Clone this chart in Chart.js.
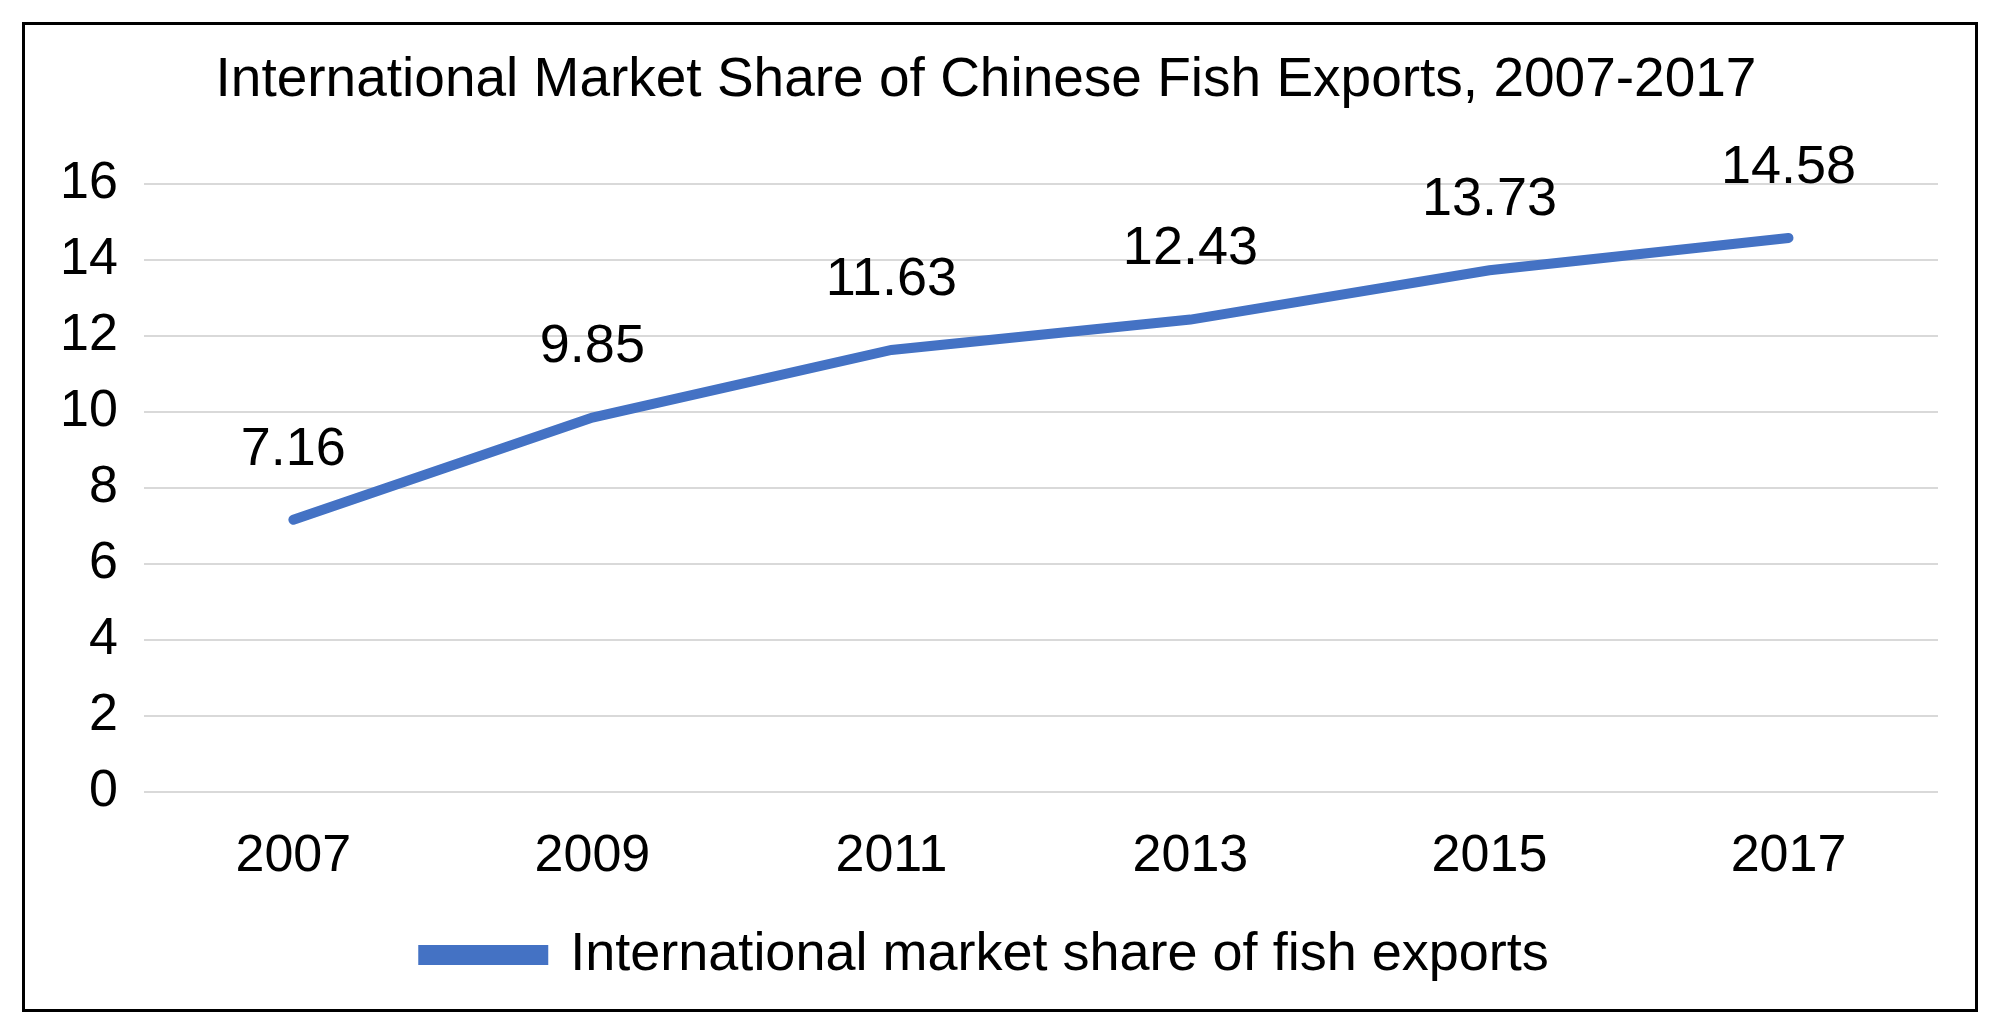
<!DOCTYPE html>
<html><head><meta charset="utf-8">
<script src="https://cdn.jsdelivr.net/npm/chart.js@4/dist/chart.umd.min.js"></script>
<style>
html,body{margin:0;padding:0;background:#fff;}
#frame{position:absolute;left:22px;top:22px;width:1950px;height:984px;border:3px solid #000;}
#wrap{position:absolute;left:0;top:0;width:2000px;height:1034px;}
</style></head><body>
<div id="frame"></div>
<div id="wrap"><canvas id="c" width="2000" height="1034"></canvas></div>
<script>
const years = ['2007','2009','2011','2013','2015','2017'];
const shares = [7.16, 9.85, 11.63, 12.43, 13.73, 14.58];
const seriesName = 'International market share of fish exports';
const chartTitle = 'International Market Share of Chinese Fish Exports, 2007-2017';
const blue = '#4472C4';
const FF = '"Liberation Sans", Arial, sans-serif';
const labelPlugin = {
  id:'labels',
  afterDatasetsDraw(chart){
    const ctx = chart.ctx;
    const meta = chart.getDatasetMeta(0);
    ctx.save();
    ctx.font = '54px ' + FF;
    ctx.fillStyle = '#000';
    ctx.textAlign = 'center';
    ctx.textBaseline = 'middle';
    meta.data.forEach((p,i)=>{
      ctx.fillText(shares[i].toFixed(2), p.x, p.y - 70);
    });
    ctx.restore();
  }
};
new Chart(document.getElementById('c'), {
  type:'line',
  data:{labels:years, datasets:[{label:seriesName, data:shares, borderColor:blue, backgroundColor:blue, borderWidth:10, borderCapStyle:'round', pointRadius:0, tension:0}]},
  options:{
    responsive:false, animation:false,
    layout:{padding:{left:34,right:62,top:20,bottom:42}},
    plugins:{
      title:{display:true, text:chartTitle, color:'#000', font:{family:FF, size:55, weight:'normal'}, padding:{top:28,bottom:70}},
      legend:{position:'bottom', labels:{color:'#000', boxWidth:120, boxHeight:10, padding:14, font:{family:FF, size:54}}},
      tooltip:{enabled:false}
    },
    scales:{
      x:{offset:true, grid:{display:false}, border:{display:false}, ticks:{color:'#000', padding:26, font:{family:FF, size:52}}},
      y:{min:0, max:16, ticks:{stepSize:2, color:'#000', padding:26, font:{family:FF, size:52}}, grid:{color:'#d9d9d9', lineWidth:2, drawTicks:false}, border:{display:false}}
    }
  },
  plugins:[labelPlugin]
});
</script></body></html>
